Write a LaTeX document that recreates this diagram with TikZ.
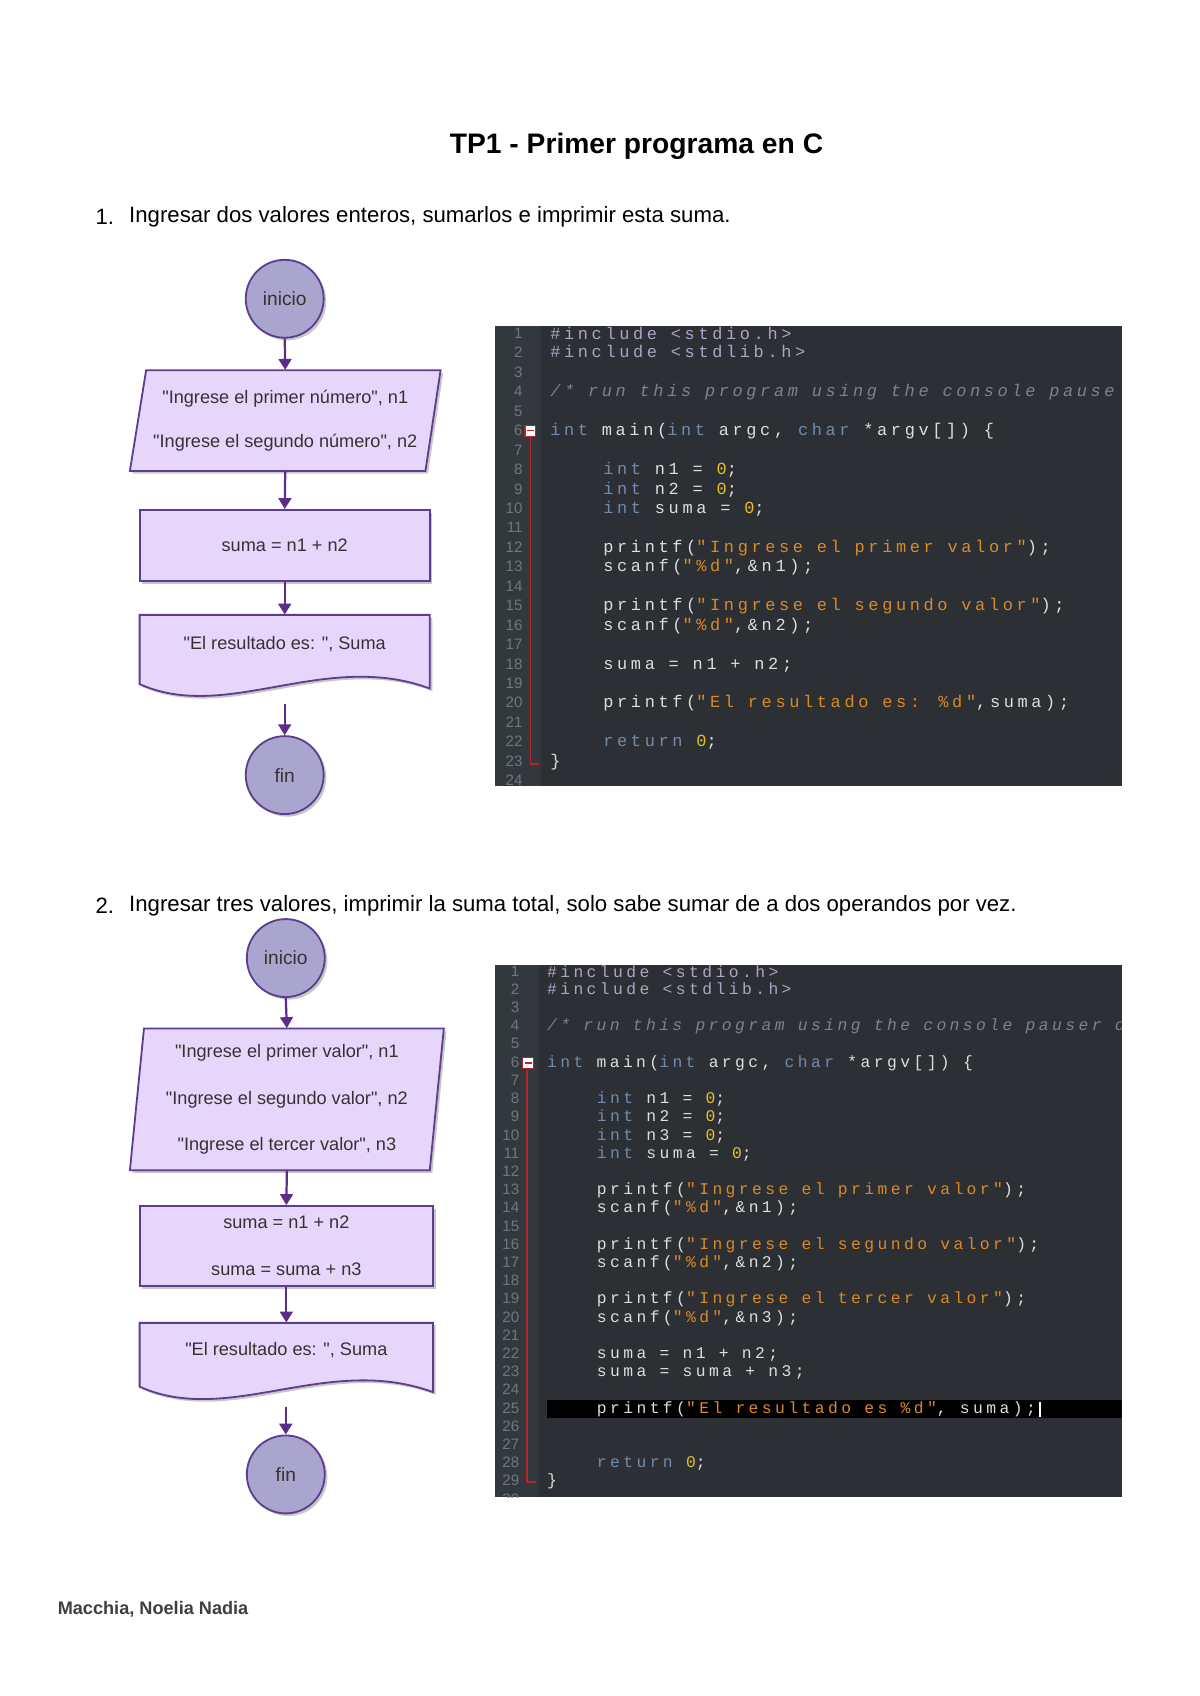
\documentclass[tikz,border=0pt]{standalone}
\usepackage{fontspec}
\setmainfont{Liberation Sans}
\setmonofont{Liberation Mono}
\newfontfamily\fcfont{Liberation Sans}
\newfontfamily\codeA[LetterSpace=21.5]{Liberation Mono}
\newfontfamily\codeB[LetterSpace=21]{Liberation Mono}
\usetikzlibrary{arrows.meta,shadows}
\definecolor{circfill}{HTML}{A9A5CE}
\definecolor{boxfill}{HTML}{E7D6FB}
\definecolor{edgec}{HTML}{5E3C92}
\definecolor{arrowc}{HTML}{5A2D88}
\definecolor{txtc}{HTML}{333333}
\definecolor{panelc}{HTML}{2C3034}
\definecolor{gutterc}{HTML}{33383E}
\definecolor{lnumc}{HTML}{6E7780}
\definecolor{cplain}{HTML}{DDDDDD}
\definecolor{ckwc}{HTML}{6F8CAB}
\definecolor{cstrc}{HTML}{D98A26}
\definecolor{cnumc}{HTML}{E3C22A}
\definecolor{cppc}{HTML}{ADA3C7}
\definecolor{ccomc}{HTML}{7C838A}
\definecolor{foldred}{HTML}{B3262A}
\definecolor{authorc}{HTML}{3F3F3F}
\newcommand\cdKw[1]{\textcolor{ckwc}{#1}}
\newcommand\cdStr[1]{\textcolor{cstrc}{#1}}
\newcommand\cdNum[1]{\textcolor{cnumc}{#1}}
\newcommand\cdPp[1]{\textcolor{cppc}{#1}}
\newcommand\cdCom[1]{\textcolor{ccomc}{\itshape #1}}
\begin{document}
\begin{tikzpicture}[x=0.5370pt,y=-0.5370pt,
  shad/.style={drop shadow={shadow xshift=1.3pt,shadow yshift=-1.3pt,opacity=0.22,fill=black}},
  circ/.style={circle,fill=circfill,draw=edgec,line width=0.9pt,minimum size=72*0.5370pt,inner sep=0pt,
    font=\fcfont\fontsize{9.5}{11}\selectfont,text=txtc,shad},
  boxsty/.style={fill=boxfill,draw=edgec,line width=0.9pt,shad},
  boxn/.style={rectangle,boxsty,inner sep=0pt,align=center,text=txtc,font=\fcfont\fontsize{9}{23.1}\selectfont},
  inv/.style={rectangle,inner sep=0pt,align=center,text=txtc},
  arr/.style={draw=arrowc,line width=1.1pt,-{Triangle[width=6.4pt,length=5.4pt]}},
  plain/.style={inner sep=0pt,anchor=west},
  lnA/.style={inner sep=0pt,anchor=east,text=lnumc,font=\fontsize{7.5}{9}\selectfont,text height=5.5pt,text depth=1.5pt},
  cdA/.style={inner sep=0pt,anchor=west,text=cplain,font=\codeA\fontsize{8.4}{10}\selectfont,text height=6pt,text depth=2pt},
  cdB/.style={inner sep=0pt,anchor=west,text=cplain,font=\codeB\fontsize{8.1}{10}\selectfont,text height=6pt,text depth=2pt}]
\fill[white] (0,0) rectangle (1108.5,1566.7);
\useasboundingbox (0,0) rectangle (1108.5,1566.7);

% ---------- texts ----------
\node[inner sep=0pt,font=\bfseries\fontsize{14}{16}\selectfont] (title) at (588,135) {TP1 - Primer programa en C};
\node[plain,font=\fontsize{11}{13}\selectfont] (num1) at (88,200) {1.};
\node[plain,font=\fontsize{11}{13}\selectfont] (item1) at (119,200) {Ingresar dos valores enteros, sumarlos e imprimir esta suma.};
\node[plain,font=\fontsize{11}{13}\selectfont] (num2) at (88,837) {2.};
\node[plain,font=\fontsize{11}{13}\selectfont] (item2) at (119,837) {Ingresar tres valores, imprimir la suma total, solo sabe sumar de a dos operandos por vez.};
\node[plain,font=\bfseries\fontsize{9}{11}\selectfont,text=authorc] (author) at (53,1487) {Macchia, Noelia Nadia};

% ---------- flowchart 1 ----------
\node[circ] (s1) at (263,276) {inicio};
\path[boxsty] (135,342) -- (407,342) -- (393,435) -- (120,435) -- cycle;
\node[inv,minimum width=287*0.5370pt,minimum height=93*0.5370pt,font=\fcfont\fontsize{9}{22}\selectfont] (p1) at (263.5,388.5)
  {"Ingrese el primer número", n1\\"Ingrese el segundo número", n2};
\node[boxn,minimum width=268*0.5370pt,minimum height=66*0.5370pt] (r1) at (263,504) {suma = n1 + n2};
\path[boxsty] (129,568) -- (397,568) -- (397,636) .. controls (300,600) and (210,668) .. (129,632) -- cycle;
\node[inv,minimum width=268*0.5370pt,minimum height=54*0.5370pt,font=\fcfont\fontsize{9}{11}\selectfont] (d1) at (263,595) {"El resultado es: ", Suma};
\coordinate (b1) at (263,650);
\node[circ] (f1) at (263,716) {fin};
\draw[arr] (s1.south) -- (p1.north);
\draw[arr] (p1.south) -- (r1.north);
\draw[arr] (r1.south) -- (d1.north);
\draw[arr] (b1) -- (f1.north);

% ---------- flowchart 2 ----------
\node[circ] (s2) at (264,885) {inicio};
\path[boxsty] (133,950) -- (410,950) -- (397,1081) -- (120,1081) -- cycle;
\node[inv,minimum width=290*0.5370pt,minimum height=131*0.5370pt,font=\fcfont\fontsize{9}{23.1}\selectfont] (p2) at (265,1015.5)
  {"Ingrese el primer valor", n1\\"Ingrese el segundo valor", n2\\"Ingrese el tercer valor", n3};
\node[boxn,minimum width=271*0.5370pt,minimum height=74*0.5370pt] (r2) at (264.5,1151) {suma = n1 + n2\\suma = suma + n3};
\path[boxsty] (129,1222) -- (400,1222) -- (400,1286) .. controls (302,1250) and (212,1318) .. (129,1281) -- cycle;
\node[inv,minimum width=271*0.5370pt,minimum height=50*0.5370pt,font=\fcfont\fontsize{9}{11}\selectfont] (d2) at (264.5,1247) {"El resultado es: ", Suma};
\coordinate (b2) at (264,1300);
\node[circ] (f2) at (264,1362) {fin};
\draw[arr] (s2.south) -- (p2.north);
\draw[arr] (p2.south) -- (r2.north);
\draw[arr] (r2.south) -- (d2.north);
\draw[arr] (b2) -- (f2.north);

% ---------- code panel 1 ----------
\fill[panelc] (457,301) rectangle (1036,726);
\begin{scope}
\clip (457,301) rectangle (1036,726);
\fill[gutterc] (457,301) rectangle (500,726);
\foreach \i in {1,...,24} \node[lnA] (la\i) at (483,{309+(\i-1)*17.96}) {\i};
\draw[foldred,line width=0.8pt] (490,403) |- (498,706);
\node[draw=foldred,fill=white,line width=0.6pt,minimum size=5.4pt,inner sep=0pt] (fa) at (490,398) {};
\draw[foldred,line width=0.6pt] ([xshift=-1.6pt]fa.center) -- ([xshift=1.6pt]fa.center);
\node[cdA] (ca1) at (508,{310+0*17.96}) {\cdPp{\#include <stdio.h>}};
\node[cdA] (ca2) at (508,{309+1*17.96}) {\cdPp{\#include <stdlib.h>}};
\node[cdA] (ca4) at (508,{309+3*17.96}) {\cdCom{/* run this program using the console pause}};
\node[cdA] (ca6) at (508,{309+5*17.96}) {\cdKw{int} main(\cdKw{int} argc, \cdKw{char} *argv[]) \{};
\node[cdA] (ca8) at (557,{309+7*17.96}) {\cdKw{int} n1 = \cdNum{0};};
\node[cdA] (ca9) at (557,{309+8*17.96}) {\cdKw{int} n2 = \cdNum{0};};
\node[cdA] (ca10) at (557,{309+9*17.96}) {\cdKw{int} suma = \cdNum{0};};
\node[cdA] (ca12) at (557,{309+11*17.96}) {printf(\cdStr{"Ingrese el primer valor"});};
\node[cdA] (ca13) at (557,{309+12*17.96}) {scanf(\cdStr{"\%d"},\&n1);};
\node[cdA] (ca15) at (557,{309+14*17.96}) {printf(\cdStr{"Ingrese el segundo valor"});};
\node[cdA] (ca16) at (557,{309+15*17.96}) {scanf(\cdStr{"\%d"},\&n2);};
\node[cdA] (ca18) at (557,{309+17*17.96}) {suma = n1 + n2;};
\node[cdA] (ca20) at (557,{309+19*17.96}) {printf(\cdStr{"El resultado es: \%d"},suma);};
\node[cdA] (ca22) at (557,{309+21*17.96}) {\cdKw{return} \cdNum{0};};
\node[cdA] (ca23) at (508,{309+22*17.96}) {\}};
\end{scope}

% ---------- code panel 2 ----------
\fill[panelc] (457,891) rectangle (1036,1383);
\begin{scope}
\clip (457,891) rectangle (1036,1383);
\fill[gutterc] (457,891) rectangle (498,1383);
\fill[black] (505,{898+24*16.82-8}) rectangle (1036,{898+24*16.82+8});
\foreach \i in {1,...,30} \node[lnA] (lb\i) at (480,{898+(\i-1)*16.82}) {\i};
\draw[foldred,line width=0.8pt] (487,988) |- (495,1369);
\node[draw=foldred,fill=white,line width=0.6pt,minimum size=5.4pt,inner sep=0pt] (fb) at (488,982) {};
\draw[foldred,line width=0.6pt] ([xshift=-1.6pt]fb.center) -- ([xshift=1.6pt]fb.center);
\node[cdB] (cb1) at (505,{899+0*16.82}) {\cdPp{\#include <stdio.h>}};
\node[cdB] (cb2) at (505,{898+1*16.82}) {\cdPp{\#include <stdlib.h>}};
\node[cdB] (cb4) at (505,{898+3*16.82}) {\cdCom{/* run this program using the console pauser o}};
\node[cdB] (cb6) at (505,{898+5*16.82}) {\cdKw{int} main(\cdKw{int} argc, \cdKw{char} *argv[]) \{};
\node[cdB] (cb8) at (551,{898+7*16.82}) {\cdKw{int} n1 = \cdNum{0};};
\node[cdB] (cb9) at (551,{898+8*16.82}) {\cdKw{int} n2 = \cdNum{0};};
\node[cdB] (cb10) at (551,{898+9*16.82}) {\cdKw{int} n3 = \cdNum{0};};
\node[cdB] (cb11) at (551,{898+10*16.82}) {\cdKw{int} suma = \cdNum{0};};
\node[cdB] (cb13) at (551,{898+12*16.82}) {printf(\cdStr{"Ingrese el primer valor"});};
\node[cdB] (cb14) at (551,{898+13*16.82}) {scanf(\cdStr{"\%d"},\&n1);};
\node[cdB] (cb16) at (551,{898+15*16.82}) {printf(\cdStr{"Ingrese el segundo valor"});};
\node[cdB] (cb17) at (551,{898+16*16.82}) {scanf(\cdStr{"\%d"},\&n2);};
\node[cdB] (cb19) at (551,{898+18*16.82}) {printf(\cdStr{"Ingrese el tercer valor"});};
\node[cdB] (cb20) at (551,{898+19*16.82}) {scanf(\cdStr{"\%d"},\&n3);};
\node[cdB] (cb22) at (551,{898+21*16.82}) {suma = n1 + n2;};
\node[cdB] (cb23) at (551,{898+22*16.82}) {suma = suma + n3;};
\node[cdB] (cb25) at (551,{898+24*16.82}) {printf(\cdStr{"El resultado es \%d"}, suma);};
\fill[white] ([xshift=1.2pt]cb25.east |- 0,{898+24*16.82-7}) rectangle ++(2.2,14);
\node[cdB] (cb28) at (551,{898+27*16.82}) {\cdKw{return} \cdNum{0};};
\node[cdB] (cb29) at (505,{898+28*16.82}) {\}};
\end{scope}
\end{tikzpicture}
\end{document}
